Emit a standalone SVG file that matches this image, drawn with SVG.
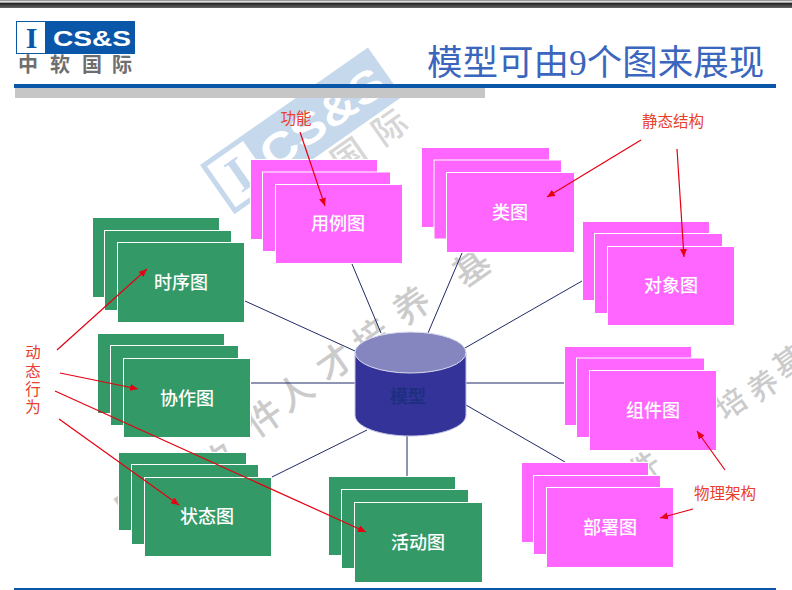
<svg xmlns="http://www.w3.org/2000/svg" width="792" height="590" viewBox="0 0 792 590">
<style>
.cjk{font-family:"Noto Sans CJK SC","Liberation Sans",sans-serif}
.g rect{fill:#339966;stroke:#fff;stroke-width:1}
.m rect{fill:#ff66ff;stroke:#fff;stroke-width:1}
.lbl{font-family:"Noto Sans CJK SC",sans-serif;font-size:18px;font-weight:500;fill:#fff;text-anchor:middle;dominant-baseline:central}
.note{font-family:"Noto Sans CJK SC",sans-serif;font-size:15.5px;fill:#e8402a;text-anchor:middle;dominant-baseline:central}
.wm{font-family:"Noto Sans CJK SC",sans-serif;font-weight:500;fill:#cbcbcb;font-size:36px;text-anchor:middle;dominant-baseline:central}
.wl{font-family:"Noto Sans CJK SC",sans-serif;font-weight:500;fill:#d6d6d6;font-size:34px;text-anchor:middle}
#connectors line{stroke:#1f2a66;stroke-width:1}
#annotations line{stroke:#e60012;stroke-width:1.2;marker-end:url(#ah)}
</style>
<defs>
<linearGradient id="bar" x1="0" y1="0" x2="0" y2="1"><stop offset="0" stop-color="#777"/><stop offset=".25" stop-color="#fff"/><stop offset=".4" stop-color="#222"/><stop offset="1" stop-color="#666"/></linearGradient>
<marker id="ah" markerUnits="userSpaceOnUse" markerWidth="9" markerHeight="8" refX="8" refY="3.500" orient="auto"><path d="M0 0L8 3.500L0 7z" fill="#e60012"/></marker>
</defs>
<rect width="792" height="590" fill="#fff"/>
<rect width="792" height="8" fill="url(#bar)"/>
<g id="watermark">
<g transform="translate(200,165) rotate(-35)">
<rect width="205" height="60" fill="#c6d8ec"/>
<rect x="5" y="5" width="44" height="50" fill="#fff"/>
<text x="27" y="47" font-family="Liberation Serif,serif" font-weight="700" font-size="50" text-anchor="middle" fill="#c6d8ec">I</text>
<text x="56" y="47" font-family="Liberation Sans,sans-serif" font-weight="700" font-size="44" fill="#fff" textLength="142" lengthAdjust="spacingAndGlyphs">CS&amp;S</text>
<text class="wl" x="127" y="90">国</text>
<text class="wl" x="177" y="90">际</text>
</g>
<text class="wm" transform="translate(130,497) rotate(-35)">中</text>
<text class="wm" transform="translate(215,460) rotate(-35)">软</text>
<text class="wm" transform="translate(262,415) rotate(-35)">件</text>
<text class="wm" transform="translate(293,390) rotate(-35)">人</text>
<text class="wm" transform="translate(333,360) rotate(-35)">才</text>
<text class="wm" transform="translate(370,335) rotate(-35)">培</text>
<text class="wm" transform="translate(410,303) rotate(-35)">养</text>
<text class="wm" transform="translate(470,265) rotate(-35)">基</text>
<text class="wm" style="font-size:30px" transform="translate(643,465) rotate(-35)">件</text>
<text class="wm" style="font-size:30px" transform="translate(730,402) rotate(-35)">培</text>
<text class="wm" style="font-size:30px" transform="translate(762,384) rotate(-35)">养</text>
<text class="wm" style="font-size:30px" transform="translate(787,360) rotate(-35)">基</text>
</g>
<g id="header">
<rect x="16" y="21" width="119" height="33" fill="#0a56a8"/>
<rect x="17" y="22" width="28" height="31" fill="#fff"/>
<text x="31.500" y="48" font-family="Liberation Serif,serif" font-weight="700" font-size="30" text-anchor="middle" fill="#0a56a8">I</text>
<text x="53" y="45.500" font-family="Liberation Sans,sans-serif" font-weight="700" font-size="22" fill="#fff" textLength="78" lengthAdjust="spacingAndGlyphs">CS&amp;S</text>
<text class="cjk" x="28 60 92 122" y="72" font-size="20" font-weight="700" fill="#6e6e6e" text-anchor="middle">中软国际</text>
<text x="427" y="75" font-size="35.500" fill="#3a66bd" font-family="Noto Sans CJK SC,sans-serif">模型可由<tspan font-family="Liberation Serif,serif">9</tspan>个图来展现</text>
<rect x="15" y="88" width="470" height="10" fill="#c6c6c6"/>
<rect x="14" y="84" width="762" height="4" fill="#0a56a8"/>
<rect x="14" y="588" width="762" height="2" fill="#0a56a8"/>
</g>
<g id="connectors">
<line x1="245" y1="301" x2="355" y2="351"/>
<line x1="352" y1="264" x2="381" y2="333"/>
<line x1="462" y1="253" x2="428" y2="333"/>
<line x1="582" y1="281" x2="465" y2="348"/>
<line x1="251" y1="383" x2="355" y2="383"/>
<line x1="466" y1="383" x2="564" y2="383"/>
<line x1="466" y1="405" x2="565" y2="462"/>
<line x1="407" y1="436" x2="407" y2="476"/>
<line x1="272" y1="477" x2="367" y2="430"/>
</g>
<g id="n-sequence" class="g"><rect x="92.500" y="217.500" width="127" height="80"/><rect x="104.500" y="230.500" width="127" height="80"/><rect x="117.500" y="242.500" width="127" height="80"/><text class="lbl" x="181" y="281">时序图</text></g>
<g id="n-collab" class="g"><rect x="97.500" y="333.500" width="127" height="80"/><rect x="110.500" y="345.500" width="128" height="80"/><rect x="123.500" y="358.500" width="127" height="79"/><text class="lbl" x="187" y="397">协作图</text></g>
<g id="n-state" class="g"><rect x="118.500" y="452.500" width="128" height="78"/><rect x="131.500" y="464.500" width="127" height="80"/><rect x="144.500" y="477.500" width="127" height="79"/><text class="lbl" x="207" y="515">状态图</text></g>
<g id="n-activity" class="g"><rect x="328.500" y="476.500" width="127" height="79"/><rect x="341.500" y="489.500" width="127" height="79"/><rect x="354.500" y="502.500" width="128" height="80"/><text class="lbl" x="418" y="541">活动图</text></g>
<g id="n-usecase" class="m"><rect x="250.500" y="159.500" width="127" height="80"/><rect x="262.500" y="172" width="128" height="79.500"/><rect x="275.500" y="184.500" width="127" height="79"/><text class="lbl" x="338" y="222">用例图</text></g>
<g id="n-class" class="m"><rect x="421.500" y="147.500" width="128" height="80"/><rect x="434" y="160" width="127.500" height="79"/><rect x="446.500" y="172.500" width="128" height="80"/><text class="lbl" x="510" y="211">类图</text></g>
<g id="n-object" class="m"><rect x="582.500" y="221.500" width="127" height="79"/><rect x="594.500" y="233.500" width="128" height="80"/><rect x="607.500" y="246.500" width="127" height="79"/><text class="lbl" x="671" y="284">对象图</text></g>
<g id="n-component" class="m"><rect x="564.500" y="346.500" width="127" height="79"/><rect x="576.500" y="358" width="128" height="79.500"/><rect x="589.500" y="370.500" width="127" height="80"/><text class="lbl" x="653" y="409">组件图</text></g>
<g id="n-deploy" class="m"><rect x="521.500" y="462.500" width="127" height="80"/><rect x="533.500" y="475.500" width="127" height="79"/><rect x="546.500" y="487.500" width="127" height="80"/><text class="lbl" x="610" y="526">部署图</text></g>
<g id="n-model">
<path d="M355 353V415C355 427 380 436 410.500 436S466 427 466 415V353z" fill="#333399" stroke="#c4c4e6" stroke-width="1"/>
<ellipse cx="410.500" cy="352.500" rx="55.500" ry="20.500" fill="#8585c0" stroke="#dcdcf0" stroke-width="1"/>
<text x="408" y="395" font-family="Noto Sans CJK SC,sans-serif" font-size="18" font-weight="700" fill="#1f2f80" text-anchor="middle" dominant-baseline="central">模型</text>
</g>
<g id="annotations">
<line x1="300" y1="132" x2="325" y2="206"/>
<line x1="641" y1="140" x2="547" y2="197"/>
<line x1="677" y1="149" x2="684" y2="257"/>
<line x1="57" y1="350" x2="147" y2="269"/>
<line x1="60" y1="373" x2="138" y2="389"/>
<line x1="55" y1="391" x2="366" y2="532"/>
<line x1="59" y1="419" x2="179" y2="505"/>
<line x1="725" y1="470" x2="697" y2="431"/>
<line x1="693" y1="509" x2="660" y2="518"/>
<text class="note" x="296" y="116.500">功能</text>
<text class="note" x="673" y="120">静态结构</text>
<text class="note" x="725" y="492">物理架构</text>
<text class="note" x="33 33 33 33" y="351 370 388 406">动态行为</text>
</g>
</svg>
